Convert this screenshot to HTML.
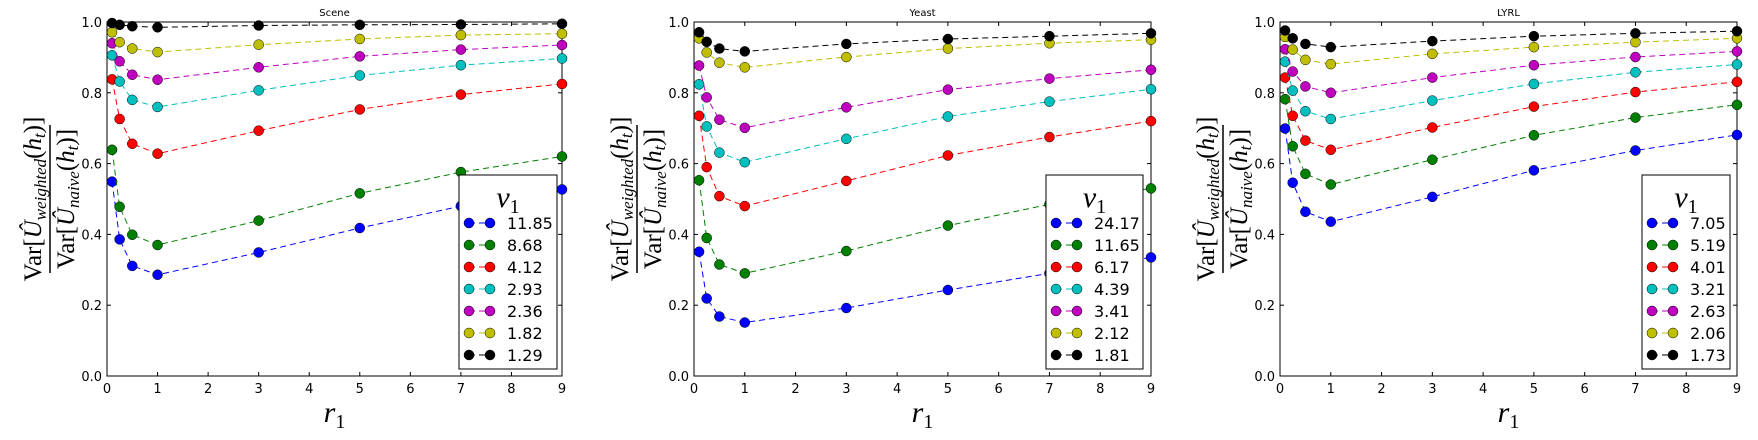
<!DOCTYPE html>
<html><head><meta charset="utf-8">
<style>
html,body{margin:0;padding:0;background:#fff;}
svg{display:block;}
</style></head>
<body>
<svg id="chart" width="1758" height="440" xmlns="http://www.w3.org/2000/svg"></svg>
<script>
const xValues = [0.1, 0.25, 0.5, 1, 3, 5, 7, 9];
const xTicks = [0,1,2,3,4,5,6,7,8,9];
const yTicks = [0.0,0.2,0.4,0.6,0.8,1.0];
const colors = ["#0000ff","#008000","#ff0000","#00bfbf","#bf00bf","#bfbf00","#000000"];

const sceneLabels = ["11.85","8.68","4.12","2.93","2.36","1.82","1.29"];
const sceneBlue    = [0.549,0.386,0.311,0.286,0.349,0.418,0.48,0.527];
const sceneGreen   = [0.639,0.478,0.399,0.370,0.439,0.516,0.576,0.62];
const sceneRed     = [0.838,0.726,0.656,0.628,0.693,0.753,0.795,0.825];
const sceneCyan    = [0.906,0.832,0.780,0.760,0.807,0.849,0.878,0.897];
const sceneMagenta = [0.940,0.889,0.851,0.837,0.872,0.903,0.922,0.935];
const sceneYellow  = [0.971,0.943,0.925,0.915,0.936,0.952,0.963,0.967];
const sceneBlack   = [0.997,0.992,0.988,0.985,0.990,0.992,0.993,0.995];

const yeastLabels = ["24.17","11.65","6.17","4.39","3.41","2.12","1.81"];
const yeastBlue    = [0.351,0.219,0.168,0.151,0.192,0.243,0.29,0.335];
const yeastGreen   = [0.553,0.390,0.315,0.290,0.353,0.425,0.485,0.53];
const yeastRed     = [0.735,0.590,0.508,0.480,0.551,0.623,0.675,0.72];
const yeastCyan    = [0.824,0.705,0.631,0.604,0.670,0.733,0.775,0.81];
const yeastMagenta = [0.877,0.787,0.724,0.701,0.759,0.809,0.84,0.865];
const yeastYellow  = [0.954,0.914,0.885,0.872,0.901,0.925,0.94,0.95];
const yeastBlack   = [0.971,0.944,0.925,0.917,0.938,0.952,0.96,0.968];

const lyrlLabels = ["7.05","5.19","4.01","3.21","2.63","2.06","1.73"];
const lyrlBlue    = [0.699,0.546,0.464,0.436,0.506,0.581,0.637,0.681];
const lyrlGreen   = [0.782,0.649,0.571,0.541,0.611,0.680,0.730,0.766];
const lyrlRed     = [0.843,0.735,0.665,0.639,0.702,0.761,0.802,0.831];
const lyrlCyan    = [0.888,0.806,0.748,0.726,0.778,0.825,0.858,0.880];
const lyrlMagenta = [0.923,0.860,0.818,0.800,0.843,0.878,0.901,0.917];
const lyrlYellow  = [0.958,0.922,0.893,0.881,0.910,0.929,0.943,0.954];
const lyrlBlack   = [0.976,0.954,0.938,0.929,0.946,0.960,0.968,0.974];

const panels = [
  {title:"Scene", slug:"scene", x0:107, x1:562, leg:[459,557], labels:sceneLabels,
   series:[sceneBlue,sceneGreen,sceneRed,sceneCyan,sceneMagenta,sceneYellow,sceneBlack]},
  {title:"Yeast", slug:"yeast", x0:694, x1:1151, leg:[1046,1143], labels:yeastLabels,
   series:[yeastBlue,yeastGreen,yeastRed,yeastCyan,yeastMagenta,yeastYellow,yeastBlack]},
  {title:"LYRL", slug:"lyrl", x0:1280, x1:1737, leg:[1642,1730], labels:lyrlLabels,
   series:[lyrlBlue,lyrlGreen,lyrlRed,lyrlCyan,lyrlMagenta,lyrlYellow,lyrlBlack]}
];
const TOP = 22, BOT = 376;
const NS = "http://www.w3.org/2000/svg";
const svg = document.getElementById("chart");
function mk(tag, attrs, parent){
  const e = document.createElementNS(NS, tag);
  for (const k in attrs) e.setAttribute(k, attrs[k]);
  (parent||svg).appendChild(e);
  return e;
}
const tickFont = '"DejaVu Sans","Liberation Sans",sans-serif';
const serif = '"Liberation Serif","DejaVu Serif",serif';

panels.forEach(p => {
  const xs = v => p.x0 + (v/9)*(p.x1-p.x0);
  const ys = v => BOT - v*(BOT-TOP);
  const g = mk("g", {});
  
  

  const fr = mk("rect", {x:p.x0, y:TOP, width:p.x1-p.x0, height:BOT-TOP, fill:"none", stroke:"#000", "stroke-width":1}, g);
  
  

  const t = mk("text", {x:(p.x0+p.x1)/2, y:16, "text-anchor":"middle", "font-size":10, "font-family":tickFont}, g);
  t.textContent = p.title;
  
  

  xTicks.forEach(v => {
    const x = xs(v);
    mk("line", {x1:x, x2:x, y1:BOT, y2:BOT-4, stroke:"#000"}, g);
    mk("line", {x1:x, x2:x, y1:TOP, y2:TOP+4, stroke:"#000"}, g);
    const tl = mk("text", {x:x, y:BOT+17, "text-anchor":"middle", "font-size":13, "font-family":tickFont}, g);
    tl.textContent = String(v);
    
    
  });
  yTicks.forEach(v => {
    const y = ys(v);
    mk("line", {x1:p.x0, x2:p.x0+4, y1:y, y2:y, stroke:"#000"}, g);
    mk("line", {x1:p.x1, x2:p.x1-4, y1:y, y2:y, stroke:"#000"}, g);
    const tl = mk("text", {x:p.x0-5, y:y+5, "text-anchor":"end", "font-size":13, "font-family":tickFont}, g);
    tl.textContent = v.toFixed(1);
    
    
  });

  const xl = mk("text", {x:(p.x0+p.x1)/2, y:422, "text-anchor":"middle", "font-size":30, "font-style":"italic", "font-family":serif}, g);
  xl.innerHTML = 'r<tspan font-size="20" font-style="normal" dy="6">1</tspan>';
  
  

  const lx = p.x0 - 57, cy = (TOP+BOT)/2;
  const yl = mk("g", {transform:`translate(${lx},${cy}) rotate(-90)`}, g);
  
  
  const num = mk("text", {x:0, y:-9, "text-anchor":"middle", "font-size":25, "font-family":serif}, yl);
  num.innerHTML = 'Var[<tspan font-style="italic">Û</tspan><tspan font-style="italic" font-size="17" dy="5">weighted</tspan><tspan dy="-5">(</tspan><tspan font-style="italic">h</tspan><tspan font-style="italic" font-size="17" dy="4">t</tspan><tspan dy="-4">)]</tspan>';
  mk("line", {x1:-74, x2:74, y1:0, y2:0, stroke:"#000", "stroke-width":1.5}, yl);
  const den = mk("text", {x:0, y:24, "text-anchor":"middle", "font-size":25, "font-family":serif}, yl);
  den.innerHTML = 'Var[<tspan font-style="italic">Û</tspan><tspan font-style="italic" font-size="17" dy="5">naive</tspan><tspan dy="-5">(</tspan><tspan font-style="italic">h</tspan><tspan font-style="italic" font-size="17" dy="4">t</tspan><tspan dy="-4">)]</tspan>';

  p.series.forEach((vals, si) => {
    const sg = mk("g", {}, g);
    
    
    const pts = vals.map((v,i) => xs(xValues[i]).toFixed(1)+","+ys(v).toFixed(1)).join(" ");
    mk("polyline", {points:pts, fill:"none", stroke:colors[si], "stroke-width":1, "stroke-dasharray":"6,4"}, sg);
    vals.forEach((v,i) => {
      const c = mk("circle", {cx:xs(xValues[i]), cy:ys(v), r:5, fill:colors[si], stroke:"#000", "stroke-width":0.5}, sg);
      
      
    });
  });

  const lg = mk("g", {}, g);
  
  
  const L = p.leg[0], R = p.leg[1];
  mk("rect", {x:L, y:175, width:R-L, height:194, fill:"#fff", stroke:"#000", "stroke-width":1}, lg);
  const lt = mk("text", {x:(L+R)/2, y:207, "text-anchor":"middle", "font-size":30, "font-style":"italic", "font-family":serif}, lg);
  lt.innerHTML = 'v<tspan font-style="normal" font-size="20" dy="6">1</tspan>';
  
  
  p.labels.forEach((lab, i) => {
    const y = 223 + i*22;
    const eg = mk("g", {}, lg);
    
    
    mk("line", {x1:L+10, x2:L+31, y1:y, y2:y, stroke:colors[i], "stroke-width":1, "stroke-dasharray":"6,4"}, eg);
    mk("circle", {cx:L+10, cy:y, r:5, fill:colors[i], stroke:"#000", "stroke-width":0.5}, eg);
    mk("circle", {cx:L+31, cy:y, r:5, fill:colors[i], stroke:"#000", "stroke-width":0.5}, eg);
    const tx = mk("text", {x:L+48, y:y+6, "font-size":16, "font-family":tickFont}, eg);
    tx.textContent = lab;
  });
});
</script>
</body></html>
